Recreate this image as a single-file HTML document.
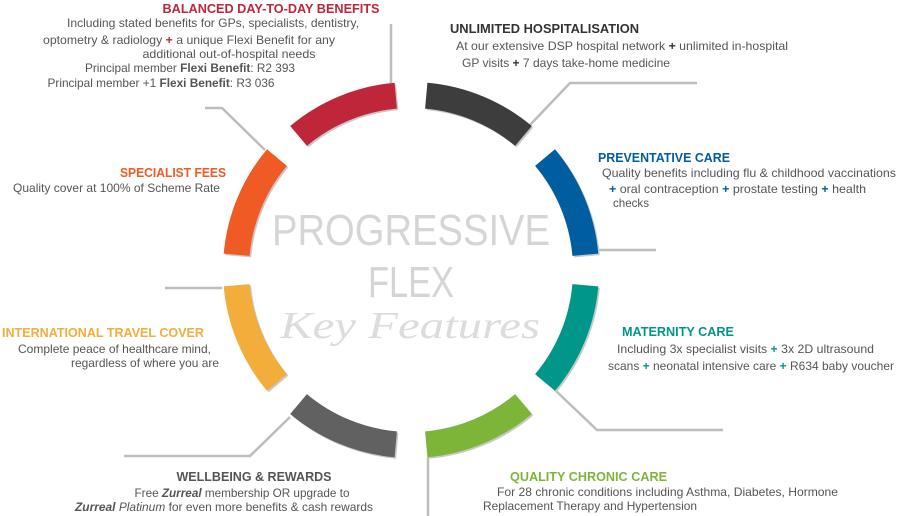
<!DOCTYPE html>
<html><head><meta charset="utf-8"><style>
html,body{margin:0;padding:0;background:#fff;}
svg{display:block;}
text{font-family:"Liberation Sans",sans-serif;}
.t{font-weight:bold;font-size:13px;}
.b{font-size:12px;fill:#555;}
.pl{font-weight:bold;}
</style></head><body>
<svg id="s" width="897" height="516" viewBox="0 0 897 516" xmlns="http://www.w3.org/2000/svg">
<g stroke="#bdbdbd" stroke-width="2.5" fill="none">
<polyline points="391,83 391,24"/>
<polyline points="530,125 570,83 697,83"/>
<polyline points="597,250 656,250"/>
<polyline points="555,390 597,430 723,430"/>
<polyline points="428,457 428,516"/>
<polyline points="290,417 250,456 124,456"/>
<polyline points="165,288 222,288"/>
<polyline points="265,150 222,108 205,108"/>
</g>
<g id="arcs"></g>
<text x="411" y="245" text-anchor="middle" font-size="44" fill="#d5d5d5" textLength="278" lengthAdjust="spacingAndGlyphs">PROGRESSIVE</text>
<text x="411" y="297" text-anchor="middle" font-size="44" fill="#d5d5d5" textLength="86" lengthAdjust="spacingAndGlyphs">FLEX</text>
<text x="410" y="338" text-anchor="middle" font-size="38" fill="#dcdcdc" font-style="italic" style="font-family:'Liberation Serif',serif" textLength="260" lengthAdjust="spacingAndGlyphs">Key Features</text>

<text class="t" x="271" y="13" text-anchor="middle" fill="#c0263a" textLength="217" lengthAdjust="spacingAndGlyphs">BALANCED DAY-TO-DAY BENEFITS</text>
<text class="b" x="213" y="27" text-anchor="middle" textLength="292" lengthAdjust="spacingAndGlyphs">Including stated benefits for GPs, specialists, dentistry,</text>
<text class="b" x="189" y="44" text-anchor="middle" textLength="292" lengthAdjust="spacingAndGlyphs">optometry &amp; radiology <tspan fill="#c0263a" class="pl">+</tspan> a unique Flexi Benefit for any</text>
<text class="b" x="229" y="58" text-anchor="middle" textLength="173" lengthAdjust="spacingAndGlyphs">additional out-of-hospital needs</text>
<text class="b" x="190" y="72" text-anchor="middle" textLength="210" lengthAdjust="spacingAndGlyphs">Principal member <tspan class="pl">Flexi Benefit</tspan>: R2 393</text>
<text class="b" x="161" y="87" text-anchor="middle" textLength="227" lengthAdjust="spacingAndGlyphs">Principal member +1 <tspan class="pl">Flexi Benefit</tspan>: R3 036</text>

<text class="t" x="450" y="33" fill="#333" textLength="189" lengthAdjust="spacingAndGlyphs">UNLIMITED HOSPITALISATION</text>
<text class="b" x="456" y="50" textLength="332" lengthAdjust="spacingAndGlyphs">At our extensive DSP hospital network <tspan class="pl" fill="#333">+</tspan> unlimited in-hospital</text>
<text class="b" x="462" y="67" textLength="208" lengthAdjust="spacingAndGlyphs">GP visits <tspan class="pl" fill="#333">+</tspan> 7 days take-home medicine</text>

<text class="t" x="598" y="162" fill="#005ea0" textLength="132" lengthAdjust="spacingAndGlyphs">PREVENTATIVE CARE</text>
<text class="b" x="602" y="177" textLength="294" lengthAdjust="spacingAndGlyphs">Quality benefits including flu &amp; childhood vaccinations</text>
<text class="b" x="609" y="193" textLength="257" lengthAdjust="spacingAndGlyphs"><tspan class="pl" fill="#005ea0">+</tspan> oral contraception <tspan class="pl" fill="#005ea0">+</tspan> prostate testing <tspan class="pl" fill="#005ea0">+</tspan> health</text>
<text class="b" x="613" y="207" textLength="36" lengthAdjust="spacingAndGlyphs">checks</text>

<text class="t" x="226" y="177" text-anchor="end" fill="#f05a24" textLength="106" lengthAdjust="spacingAndGlyphs">SPECIALIST FEES</text>
<text class="b" x="13" y="192" textLength="207" lengthAdjust="spacingAndGlyphs">Quality cover at 100% of Scheme Rate</text>

<text class="t" x="2" y="337" fill="#f2ad3a" textLength="202" lengthAdjust="spacingAndGlyphs">INTERNATIONAL TRAVEL COVER</text>
<text class="b" x="18" y="353" textLength="193" lengthAdjust="spacingAndGlyphs">Complete peace of healthcare mind,</text>
<text class="b" x="71" y="367" textLength="148" lengthAdjust="spacingAndGlyphs">regardless of where you are</text>

<text class="t" x="622" y="336" fill="#00968a" textLength="112" lengthAdjust="spacingAndGlyphs">MATERNITY CARE</text>
<text class="b" x="617" y="353" textLength="257" lengthAdjust="spacingAndGlyphs">Including 3x specialist visits <tspan class="pl" fill="#00968a">+</tspan> 3x 2D ultrasound</text>
<text class="b" x="608" y="370" textLength="286" lengthAdjust="spacingAndGlyphs">scans <tspan class="pl" fill="#00968a">+</tspan> neonatal intensive care <tspan class="pl" fill="#00968a">+</tspan> R634 baby voucher</text>

<text class="t" x="254" y="481" text-anchor="middle" fill="#555" textLength="155" lengthAdjust="spacingAndGlyphs">WELLBEING &amp; REWARDS</text>
<text class="b" x="242" y="497" text-anchor="middle" textLength="215" lengthAdjust="spacingAndGlyphs">Free <tspan class="pl" font-style="italic">Zurreal</tspan> membership OR upgrade to</text>
<text class="b" x="224" y="511" text-anchor="middle" textLength="298" lengthAdjust="spacingAndGlyphs"><tspan class="pl" font-style="italic">Zurreal</tspan> <tspan font-style="italic">Platinum</tspan> for even more benefits &amp; cash rewards</text>

<text class="t" x="510" y="481" fill="#7db539" textLength="157" lengthAdjust="spacingAndGlyphs">QUALITY CHRONIC CARE</text>
<text class="b" x="497" y="496" textLength="341" lengthAdjust="spacingAndGlyphs">For 28 chronic conditions including Asthma, Diabetes, Hormone</text>
<text class="b" x="483" y="510" textLength="214" lengthAdjust="spacingAndGlyphs">Replacement Therapy and Hypertension</text>
</svg>
<script>
(function(){
var cx=411,cy=270,R=188,r=162,g=document.getElementById('arcs');
var cols=['#c0263a','#3d3d3d','#005ea0','#00968a','#7db539','#606160','#f2ad3a','#f05a24'];
var starts=[-40,5,50,95,140,185,230,275];
function pt(rad,a){var t=(a-90)*Math.PI/180;return (cx+rad*Math.cos(t)).toFixed(1)+','+(cy+rad*Math.sin(t)).toFixed(1);}
var s='';
for(var i=0;i<8;i++){var a0=starts[i],a1=a0+35;
var d='M'+pt(R,a0)+' A'+R+','+R+' 0 0 1 '+pt(R,a1)+' L'+pt(r,a1)+' A'+r+','+r+' 0 0 0 '+pt(r,a0)+' Z';
s+='<path d="'+d+'" fill="#c8c8c8" transform="translate(1.5,1.5)"/><path d="'+d+'" fill="'+cols[i]+'"/>';}
g.innerHTML=s;})();
</script>
</body></html>
